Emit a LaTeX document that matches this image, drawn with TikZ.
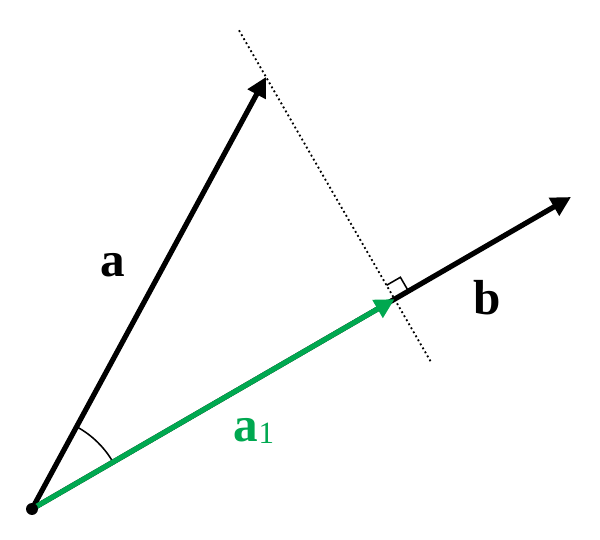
\documentclass[tikz,border=0pt]{standalone}
\usepackage{fontspec}
\setmainfont{Liberation Serif}
\usetikzlibrary{arrows.meta,calc}
\definecolor{projgreen}{RGB}{0,168,80}
\begin{document}
\begin{tikzpicture}[
    vec/.style={line width=3.7pt, -{Triangle[length=14pt,width=14pt]}},
    lbl/.style={font=\fontsize{35}{40}\selectfont\bfseries},
    thinline/.style={line width=1.1pt}
]
    \useasboundingbox (0,0) rectangle (15,13.5);

    % Points
    \coordinate (O) at (0.8,0.775);
    \coordinate (A) at (6.65,11.575);
    \coordinate (B) at (14.275,8.575);
    \coordinate (F) at ($(O)!(A)!(B)$);

    % Dotted perpendicular
    \draw[dotted, line width=1.3pt] ($(A)!-0.21!(F)$) -- ($(A)!1.29!(F)$);

    % Right angle mark
    \coordinate (Fb) at ($(F)!0.4cm!(B)$);
    \coordinate (Fa) at ($(F)!0.4cm!(A)$);
    \draw[thinline] (Fa) -- ($(Fa)+(Fb)-(F)$) -- (Fb);

    % Angle
    \draw[thinline] ($(O)+(30.07:2.34)$) arc[start angle=30.07, end angle=61.56, radius=2.34];

    % Vectors
    \draw[vec] (O) -- (A);
    \draw[vec] (O) -- (B);
    \draw[vec, projgreen] (O) -- (F);
    \fill (O) circle (0.15);

    % Labels
    \node[lbl] (la) at (2.81,6.875) {a};
    \node[lbl] (lb) at (12.19,6.05) {b};
    \node[lbl, projgreen] (la1) at (6.35,2.725) {a\raisebox{-2pt}{\fontsize{22}{24}\selectfont\mdseries 1}};
\end{tikzpicture}
\end{document}
